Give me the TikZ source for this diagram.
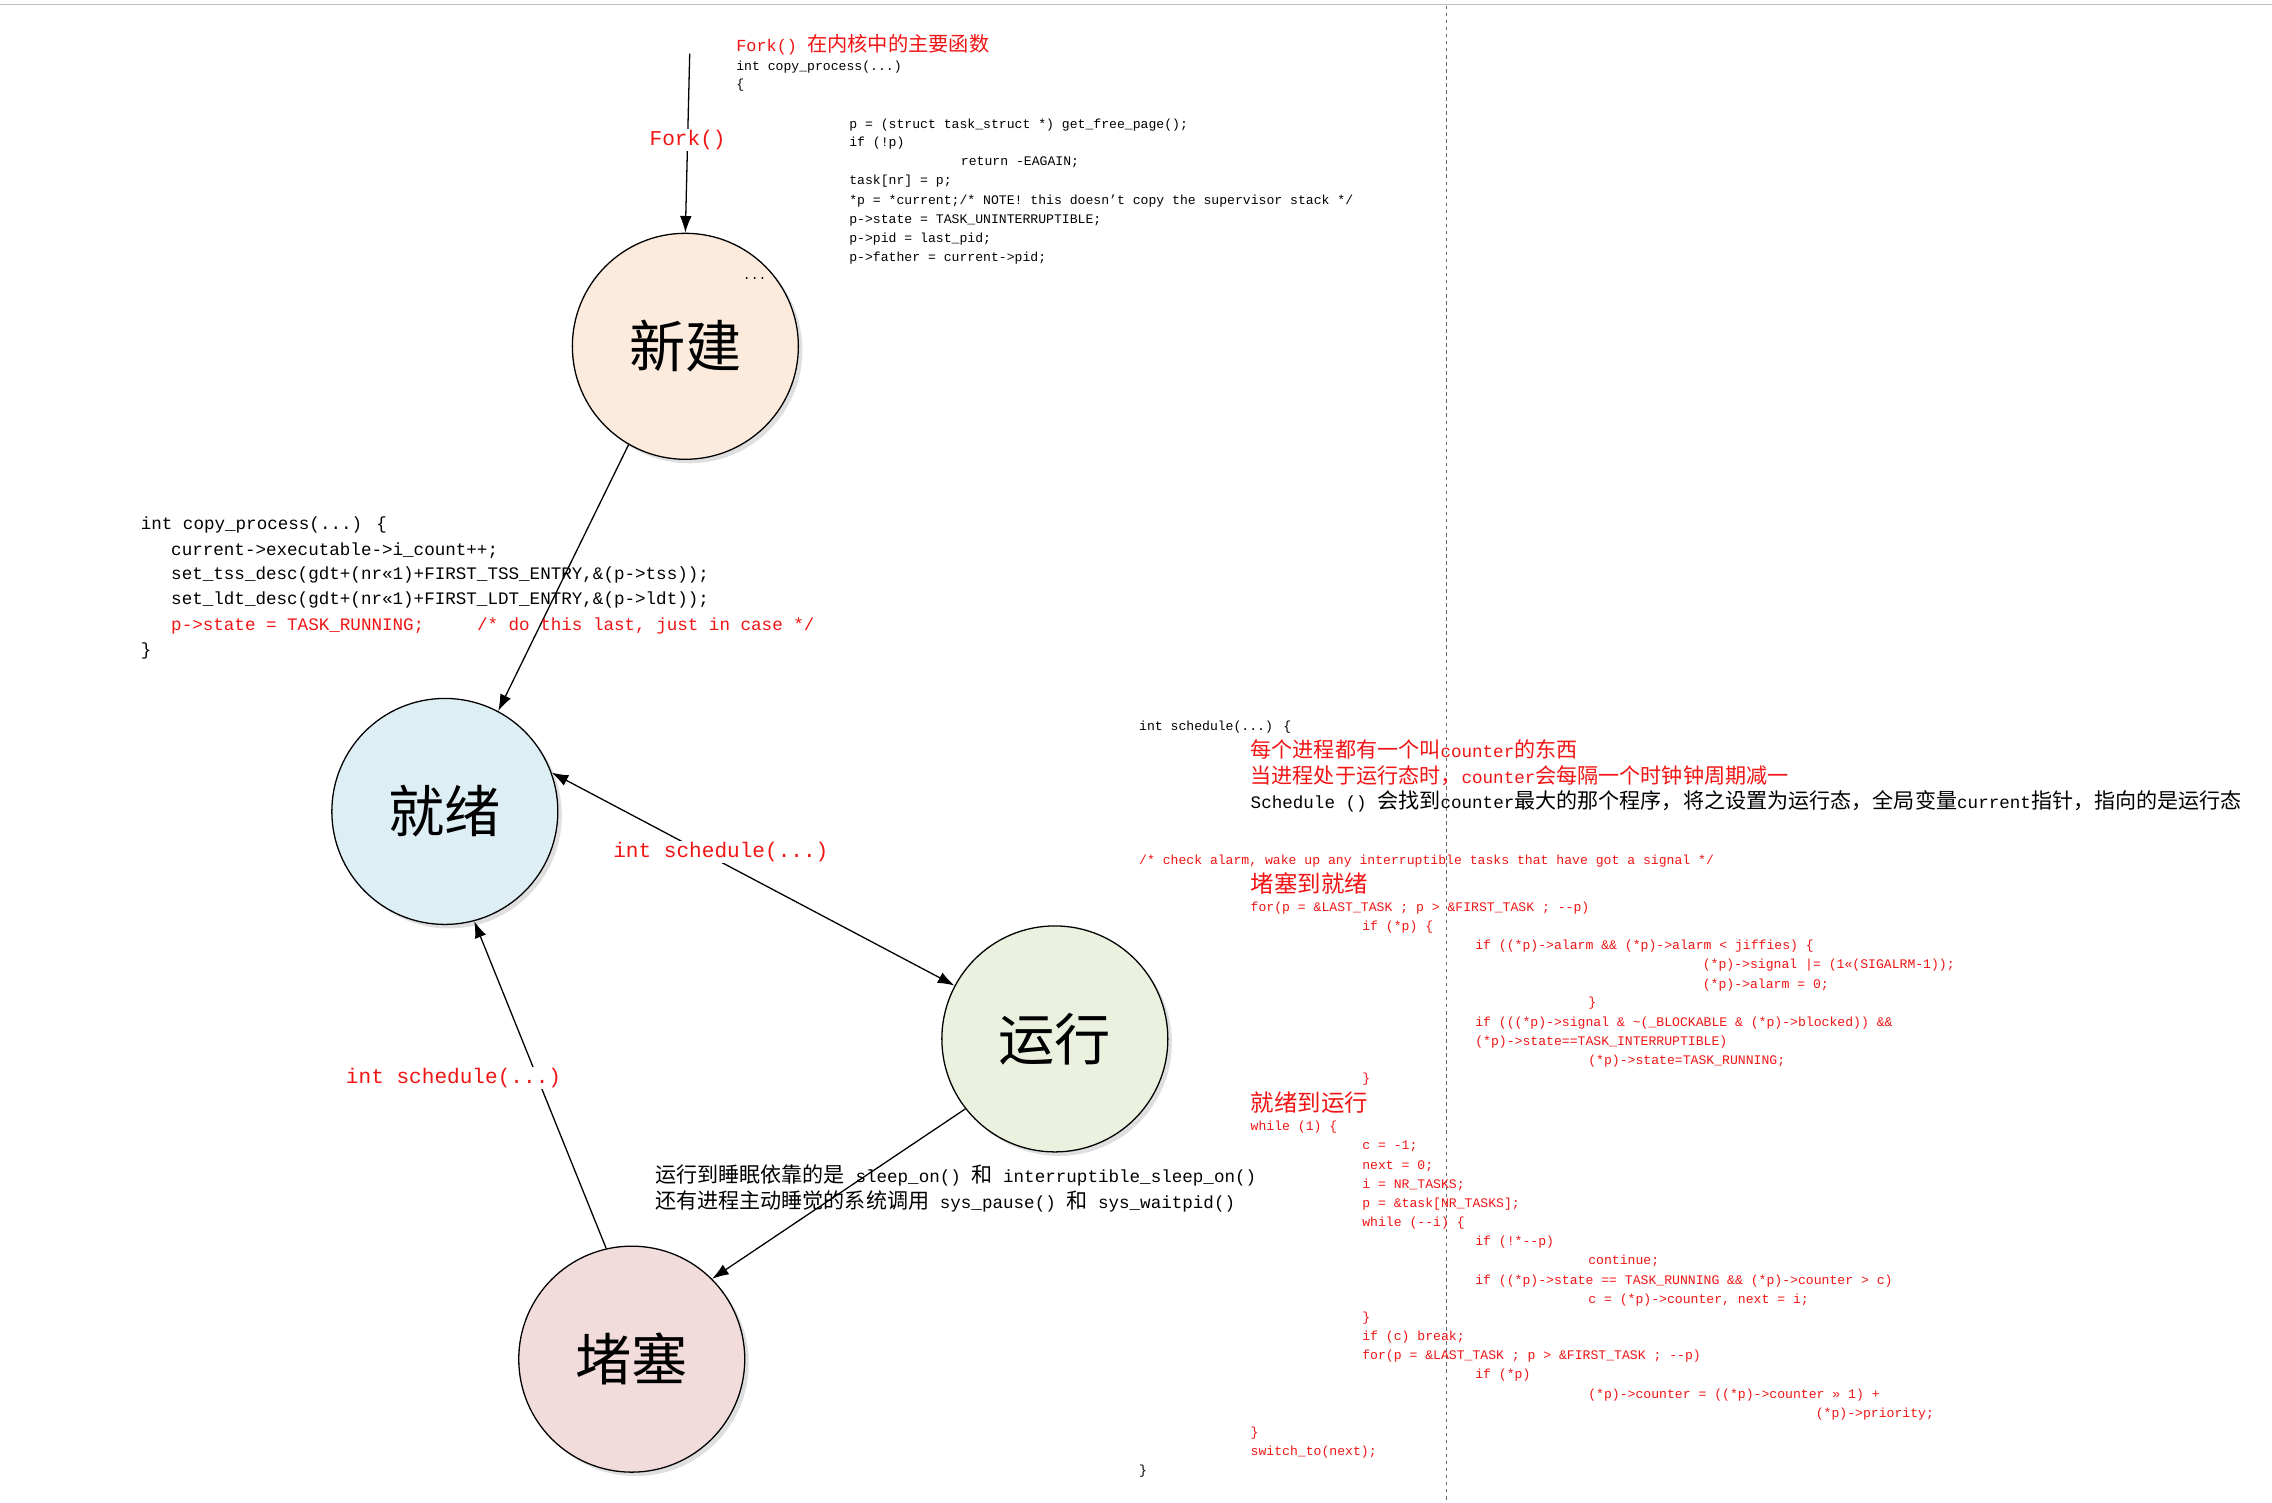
\documentclass[tikz,border=0pt]{standalone}
\usepackage{fontspec}
\setmainfont{Liberation Mono}
\newfontfamily\cjkf[Scale=1.2]{Noto Sans CJK SC}
\newfontfamily\cjkbig{Noto Sans CJK SC}
\newcommand{\cj}[1]{{\cjkf #1}}
\usetikzlibrary{arrows.meta,shadows}
\definecolor{cred}{RGB}{240,20,20}
\tikzset{
  st/.style={circle,draw=black,line width=1.1pt,minimum size=67.8mm,inner sep=0pt,
    font=\cjkbig\fontsize{48}{50}\selectfont,
    drop shadow={shadow xshift=1.2mm,shadow yshift=-1.2mm,opacity=0.25}},
  arr/.style={line width=1.1pt,-{Latex[length=5mm,width=3.5mm]}},
  lbl/.style={text=cred,font=\fontsize{18}{20}\selectfont,fill=white,inner sep=1pt},
  sc/.style={anchor=west,inner sep=0pt,font=\fontsize{11.2}{12}\selectfont},
  lc/.style={anchor=west,inner sep=0pt,font=\fontsize{15}{16}\selectfont},
}
\newcommand{\cl}[4][black]{\node[sc,text=#1] at (#2,#3) {#4};}
\newcommand{\lcl}[4][black]{\node[lc,text=#1] at (#2,#3) {#4};}
\begin{document}
\begin{tikzpicture}[x=0.4347mm,y=-0.4347mm]
\useasboundingbox (0,0) rectangle (1568,1036.6);
\draw[gray!50,line width=0.8pt] (0,3) -- (1568,3);
\draw[gray!80!black,dashed,line width=0.8pt] (998,4) -- (998,1036);
% states
\node[st,fill={rgb,255:red,252;green,235;blue,221}] (new) at (473,239) {新建};
\node[st,fill={rgb,255:red,221;green,238;blue,245}] (ready) at (307,560) {就绪};
\node[st,fill={rgb,255:red,235;green,241;blue,223}] (run) at (728,717) {运行};
\node[st,fill={rgb,255:red,242;green,220;blue,219}] (block) at (436,938) {堵塞};
% arrows
\coordinate (fs) at (476,37);
\draw[arr] (fs) -- node[lbl,pos=0.48]{Fork()} (new.north);
\draw[arr] (new.240) -- (ready.62);
\draw[arr,{Latex[length=5mm,width=3.5mm]}-{Latex[length=5mm,width=3.5mm]}] (ready.20) -- node[lbl,pos=0.42,yshift=3mm]{int schedule(...)} (run.152);
\draw[arr] (run.218) -- (block.45);
\draw[arr] (block.103) -- (ready.285);
\node[lbl] (lb2) at (313,744) {int schedule(...)};
% top code
\node[anchor=west,inner sep=0pt,text=cred,font=\fontsize{14.4}{15}\selectfont] (fh) at (508,31) {Fork() \cj{在内核中的主要函数}};
\cl{508}{46}{int copy\_process(...)}
\cl{508}{59}{\{}
\cl{586}{86}{p = (struct task\_struct *) get\_free\_page();}
\cl{586}{99}{if (!p)}
\cl{663}{112}{return -EAGAIN;}
\cl{586}{125}{task[nr] = p;}
\cl{586}{139}{*p = *current;/* NOTE! this doesn't copy the supervisor stack */}
\cl{586}{152}{p->state = TASK\_UNINTERRUPTIBLE;}
\cl{586}{165}{p->pid = last\_pid;}
\cl{586}{178}{p->father = current->pid;}
\cl{508}{192}{\hspace*{0.5em}...}
% left code
\lcl{97}{362}{int copy\_process(...) \{}
\lcl{118}{380}{current->executable->i\_count++;}
\lcl{118}{397}{set\_tss\_desc(gdt+(nr<<1)+FIRST\_TSS\_ENTRY,\&(p->tss));}
\lcl{118}{414}{set\_ldt\_desc(gdt+(nr<<1)+FIRST\_LDT\_ENTRY,\&(p->ldt));}
\lcl[cred]{118}{432}{p->state = TASK\_RUNNING;\hspace*{3em}/* do this last, just in case */}
\lcl{97}{449}{\}}
% sleep text
\lcl{452}{811}{\cj{运行到睡眠依靠的是} sleep\_on() \cj{和} interruptible\_sleep\_on()}
\lcl{452}{829}{\cj{还有进程主动睡觉的系统调用} sys\_pause() \cj{和} sys\_waitpid()}
% schedule code
\cl{786}{502}{int schedule(...) \{}
\lcl[cred]{863}{517}{\cj{每个进程都有一个叫}counter\cj{的东西}}
\lcl[cred]{863}{535}{\cj{当进程处于运行态时，}counter\cj{会每隔一个时钟钟周期减一}}
\lcl{863}{553}{Schedule () \cj{会找到}counter\cj{最大的那个程序，将之设置为运行态，全局变量}current\cj{指针，指向的是运行态}}
\cl[cred]{786}{594}{/* check alarm, wake up any interruptible tasks that have got a signal */}
\node[anchor=west,inner sep=0pt,text=cred,font=\cjkbig\fontsize{20}{22}\selectfont] (h1) at (863,610) {堵塞到就绪};
\cl[cred]{863}{627}{for(p = \&LAST\_TASK ; p > \&FIRST\_TASK ; -{}-p)}
\cl[cred]{940}{640}{if (*p) \{}
\cl[cred]{1018}{653}{if ((*p)->alarm \&\& (*p)->alarm < jiffies) \{}
\cl[cred]{1175}{666}{(*p)->signal |= (1<<(SIGALRM-1));}
\cl[cred]{1175}{680}{(*p)->alarm = 0;}
\cl[cred]{1096}{692}{\}}
\cl[cred]{1018}{706}{if (((*p)->signal \& \textasciitilde(\_BLOCKABLE \& (*p)->blocked)) \&\&}
\cl[cred]{1018}{719}{(*p)->state==TASK\_INTERRUPTIBLE)}
\cl[cred]{1096}{732}{(*p)->state=TASK\_RUNNING;}
\cl[cred]{940}{745}{\}}
\node[anchor=west,inner sep=0pt,text=cred,font=\cjkbig\fontsize{20}{22}\selectfont] (h2) at (863,761) {就绪到运行};
\cl[cred]{863}{778}{while (1) \{}
\cl[cred]{940}{791}{c = -1;}
\cl[cred]{940}{805}{next = 0;}
\cl[cred]{940}{818}{i = NR\_TASKS;}
\cl[cred]{940}{831}{p = \&task[NR\_TASKS];}
\cl[cred]{940}{844}{while (-{}-i) \{}
\cl[cred]{1018}{857}{if (!*-{}-p)}
\cl[cred]{1096}{870}{continue;}
\cl[cred]{1018}{884}{if ((*p)->state == TASK\_RUNNING \&\& (*p)->counter > c)}
\cl[cred]{1096}{897}{c = (*p)->counter, next = i;}
\cl[cred]{940}{910}{\}}
\cl[cred]{940}{923}{if (c) break;}
\cl[cred]{940}{936}{for(p = \&LAST\_TASK ; p > \&FIRST\_TASK ; -{}-p)}
\cl[cred]{1018}{949}{if (*p)}
\cl[cred]{1096}{963}{(*p)->counter = ((*p)->counter >> 1) +}
\cl[cred]{1253}{976}{(*p)->priority;}
\cl[cred]{863}{989}{\}}
\cl[cred]{863}{1002}{switch\_to(next);}
\cl{786}{1015}{\}}
\end{tikzpicture}
\end{document}
